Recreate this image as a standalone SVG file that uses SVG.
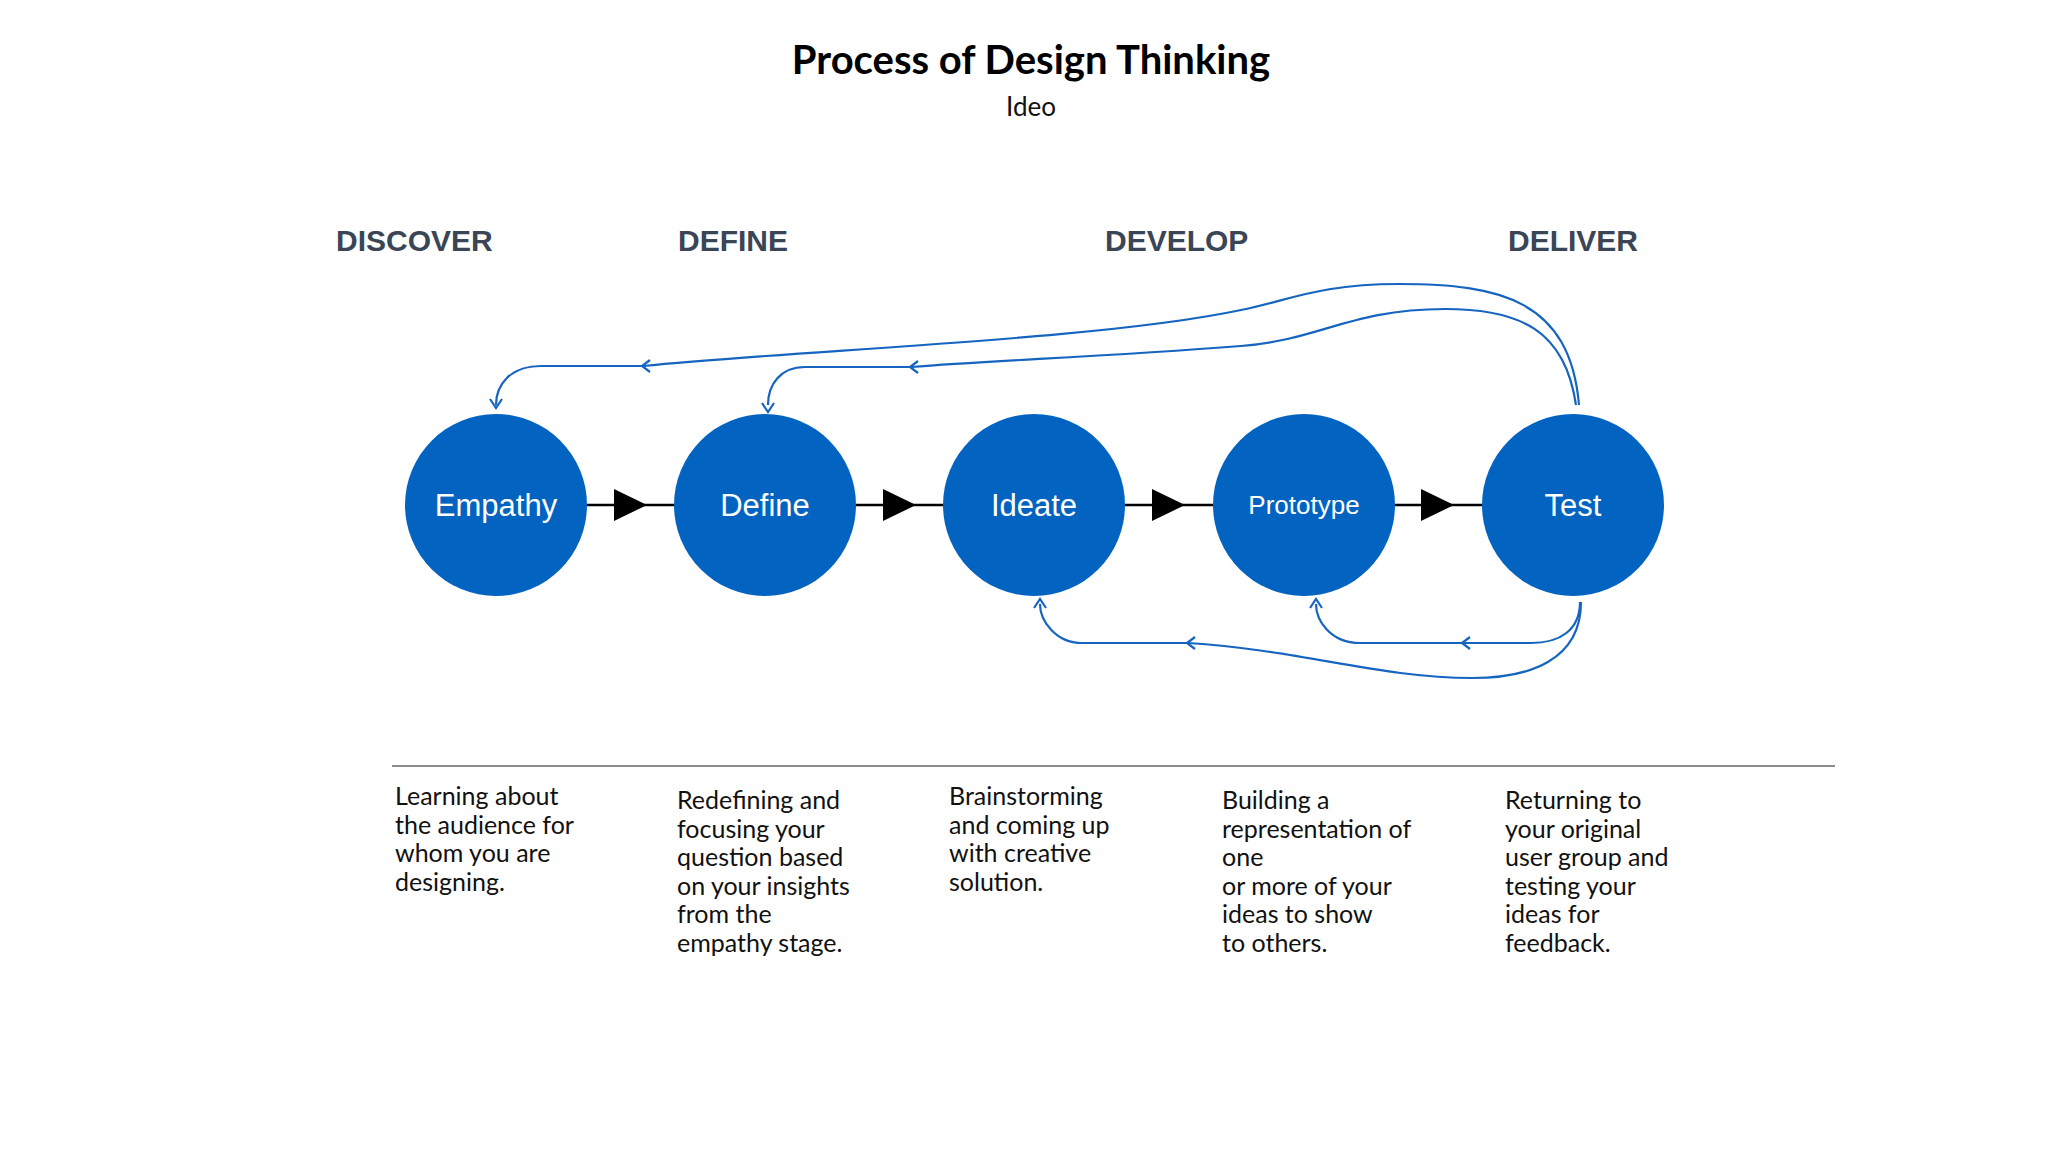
<svg xmlns="http://www.w3.org/2000/svg" width="2048" height="1152" viewBox="0 0 2048 1152">
<style>
.node{fill:#0363c1}
.nl{font-family:"Liberation Sans",Arial,sans-serif;fill:#fff;text-anchor:middle}
.ph{font-family:"Liberation Sans",Arial,sans-serif;font-weight:bold;font-size:30px;fill:#3a4556}
.desc{font-family:Lato,"Noto Sans",sans-serif;font-size:25px;fill:#111}
.fb{fill:none;stroke:#1565c0;stroke-width:2.2}
.chev{fill:none;stroke:#1565c0;stroke-width:2.2}
</style>
<rect width="2048" height="1152" fill="#fff"/>
<text x="1031" y="74" font-family="Lato,'Noto Sans',sans-serif" font-weight="bold" font-size="40" text-anchor="middle" fill="#000">Process of Design Thinking</text>
<text x="1031" y="116" font-family="Lato,'Noto Sans',sans-serif" font-size="26" text-anchor="middle" fill="#111">Ideo</text>
<g id="phases">
<text class="ph" x="336" y="251">DISCOVER</text>
<text class="ph" x="678" y="251">DEFINE</text>
<text class="ph" x="1105" y="251">DEVELOP</text>
<text class="ph" x="1508" y="251">DELIVER</text>
</g>
<g id="connectors">
<g stroke="#000" stroke-width="2.5">
<line x1="587" y1="505" x2="675" y2="505"/>
<line x1="856" y1="505" x2="944" y2="505"/>
<line x1="1125" y1="505" x2="1213" y2="505"/>
<line x1="1395" y1="505" x2="1483" y2="505"/>
</g>
<g fill="#000">
<polygon points="614,489 647,505 614,521"/>
<polygon points="883,489 916,505 883,521"/>
<polygon points="1152,489 1185,505 1152,521"/>
<polygon points="1421,489 1454,505 1421,521"/>
</g>
<path class="fb" d="M1579,405 C1570,300 1500,284 1399,284 C1320,284 1290,300 1241,310 C1100,340 800,350 643,366 L541,366 C510,366 496,385 496,405"/>
<path class="fb" d="M1576,405 C1565,330 1520,309 1445,309 C1350,309 1320,340 1241,346 C1100,357 1000,360 911,367 L805,367 C780,367 768,385 768,405"/>
<path class="fb" d="M1580,602 C1580,630 1560,643 1531,643 L1360,643 C1330,643 1316,620 1316,604"/>
<path class="fb" d="M1581,602 C1581,660 1530,678 1472,678 C1380,678 1300,650 1188,643 L1082,643 C1055,643 1040,620 1040,604"/>
<path class="chev" d="M650,360 L642,366 L650,372 M918,361 L910,367 L918,373 M1470,637 L1462,643 L1470,649 M1195,637 L1187,643 L1195,649"/>
<path class="chev" d="M490,399 L496,408 L502,399 M762,403 L768,412 L774,403 M1310,608 L1316,599 L1322,608 M1034,608 L1040,599 L1046,608"/>
</g>
<g id="empathy"><circle class="node" cx="496" cy="505" r="91"/><text class="nl" x="496" y="516" font-size="31">Empathy</text></g>
<g id="define"><circle class="node" cx="765" cy="505" r="91"/><text class="nl" x="765" y="516" font-size="31">Define</text></g>
<g id="ideate"><circle class="node" cx="1034" cy="505" r="91"/><text class="nl" x="1034" y="516" font-size="31">Ideate</text></g>
<g id="prototype"><circle class="node" cx="1304" cy="505" r="91"/><text class="nl" x="1304" y="514" font-size="26">Prototype</text></g>
<g id="test"><circle class="node" cx="1573" cy="505" r="91"/><text class="nl" x="1573" y="516" font-size="31">Test</text></g>
<line x1="392" y1="766" x2="1835" y2="766" stroke="#666" stroke-width="1.5"/>
<g id="descriptions">
<text class="desc" x="395" y="805"><tspan x="395">Learning about</tspan><tspan x="395" dy="28.5">the audience for</tspan><tspan x="395" dy="28.5">whom you are</tspan><tspan x="395" dy="28.5">designing.</tspan></text>
<text class="desc" x="677" y="809"><tspan x="677">Redefining and</tspan><tspan x="677" dy="28.5">focusing your</tspan><tspan x="677" dy="28.5">question based</tspan><tspan x="677" dy="28.5">on your insights</tspan><tspan x="677" dy="28.5">from the</tspan><tspan x="677" dy="28.5">empathy stage.</tspan></text>
<text class="desc" x="949" y="805"><tspan x="949">Brainstorming</tspan><tspan x="949" dy="28.5">and coming up</tspan><tspan x="949" dy="28.5">with creative</tspan><tspan x="949" dy="28.5">solution.</tspan></text>
<text class="desc" x="1222" y="809"><tspan x="1222">Building a</tspan><tspan x="1222" dy="28.5">representation of</tspan><tspan x="1222" dy="28.5">one</tspan><tspan x="1222" dy="28.5">or more of your</tspan><tspan x="1222" dy="28.5">ideas to show</tspan><tspan x="1222" dy="28.5">to others.</tspan></text>
<text class="desc" x="1505" y="809"><tspan x="1505">Returning to</tspan><tspan x="1505" dy="28.5">your original</tspan><tspan x="1505" dy="28.5">user group and</tspan><tspan x="1505" dy="28.5">testing your</tspan><tspan x="1505" dy="28.5">ideas for</tspan><tspan x="1505" dy="28.5">feedback.</tspan></text>
</g>
</svg>
